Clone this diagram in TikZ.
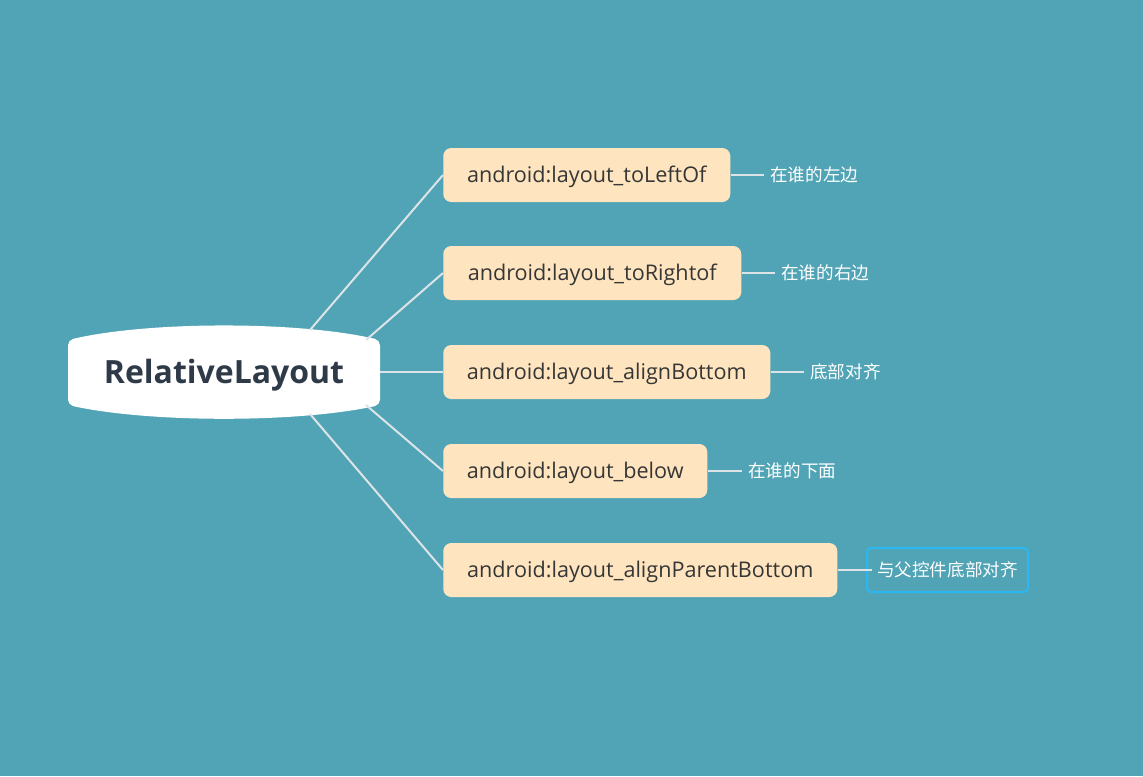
\documentclass[tikz,border=0pt]{standalone}
\usepackage{fontspec}
\setmainfont{Open Sans}
\newfontfamily\cjk{Noto Sans CJK SC}
\definecolor{bgc}{HTML}{51A4B5}
\definecolor{boxc}{HTML}{FFE5BF}
\definecolor{txtc}{HTML}{363636}
\definecolor{rootc}{HTML}{2F3A48}
\definecolor{linec}{HTML}{DCE4E8}
\definecolor{selc}{HTML}{2BB8F2}
\tikzset{
  item/.style={fill=boxc, rounded corners=6, anchor=west, minimum height=54*0.75pt, inner sep=0pt, text height=12pt, text depth=1.5pt, font=\fontsize{16.2}{18}\selectfont, text=txtc},
  lab/.style={anchor=west, inner sep=0pt, font=\cjk\fontsize{13.2}{15}\selectfont, text=white},
  conn/.style={draw=linec, line width=1.5pt},
}
\begin{document}
\begin{tikzpicture}[x=0.75pt,y=-0.75pt]
\fill[bgc] (0,0) rectangle (1143,776);
\useasboundingbox (0,0) rectangle (1143,776);
% root shape
\fill[white, rounded corners=4] (68,372) -- (68,340) .. controls (150,321) and (298,321) .. (380,340) -- (380,405) .. controls (298,423) and (150,423) .. (68,405) -- cycle;
\node[font=\bfseries\fontsize{24}{28}\selectfont, text=rootc, text height=18pt, text depth=1.5pt] (root) at (224,372) {RelativeLayout};
\coordinate (r1) at (310,330);
\coordinate (r2) at (366,340);
\coordinate (r3) at (380,372);
\coordinate (r4) at (366,405);
\coordinate (r5) at (310,414);
% items
\node[item, minimum width=287*0.75pt] (a1) at (443,175) {android:layout\_toLeftOf};
\node[item, minimum width=298*0.75pt] (a2) at (443,273) {android:layout\_toRightof};
\node[item, minimum width=327*0.75pt] (a3) at (443,372) {android:layout\_alignBottom};
\node[item, minimum width=264*0.75pt] (a4) at (443,471) {android:layout\_below};
\node[item, minimum width=394*0.75pt] (a5) at (443,570) {android:layout\_alignParentBottom};
\draw[conn] (r1) -- (a1.west);
\draw[conn] (r2) -- (a2.west);
\draw[conn] (r3) -- (a3.west);
\draw[conn] (r4) -- (a4.west);
\draw[conn] (r5) -- (a5.west);
% labels
\node[lab] (b1) at (770,175) {在谁的左边};
\node[lab] (b2) at (781,273) {在谁的右边};
\node[lab] (b3) at (810,372) {底部对齐};
\node[lab] (b4) at (748,471) {在谁的下面};
\node[lab, anchor=center] (b5) at (947.5,570) {与父控件底部对齐};
\draw[selc, line width=1.5pt, rounded corners=3] (867,548) rectangle (1028,592);
\draw[conn] (a1.east) -- ([xshift=-6*0.75pt]b1.west);
\draw[conn] (a2.east) -- ([xshift=-6*0.75pt]b2.west);
\draw[conn] (a3.east) -- ([xshift=-6*0.75pt]b3.west);
\draw[conn] (a4.east) -- ([xshift=-6*0.75pt]b4.west);
\draw[conn] (a5.east) -- (872,570);
\end{tikzpicture}
\end{document}
